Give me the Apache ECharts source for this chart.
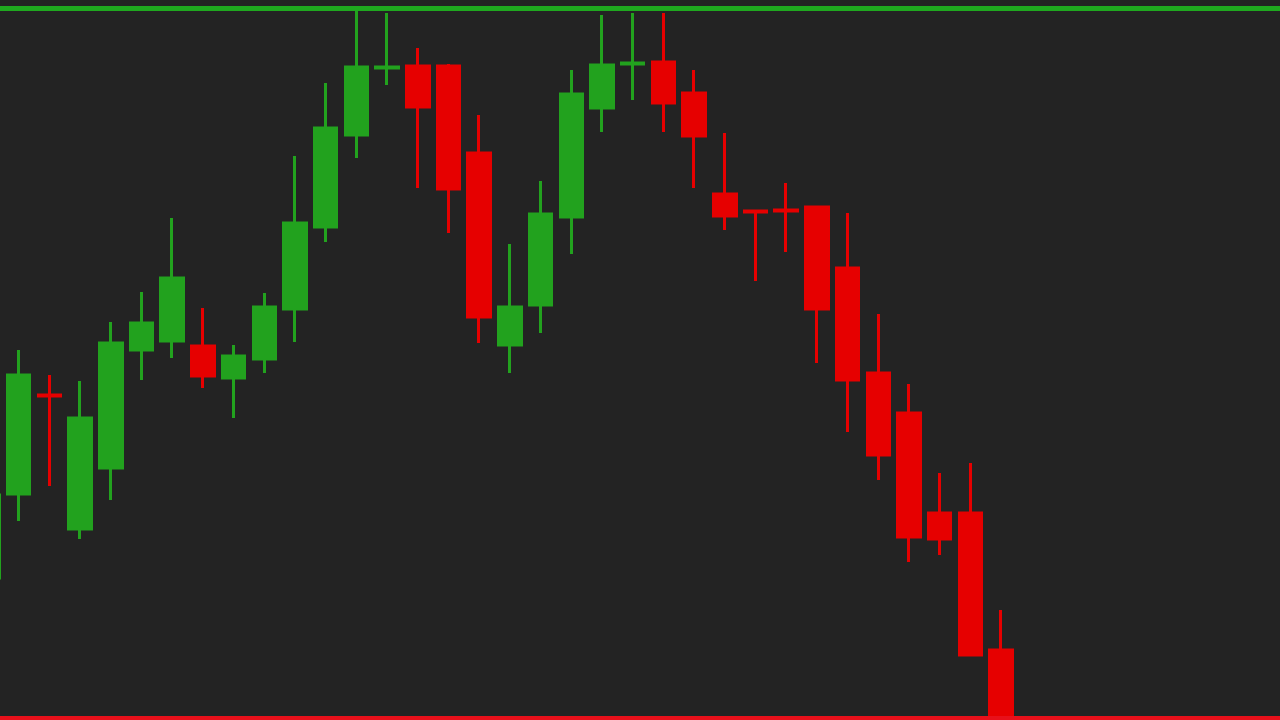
<!DOCTYPE html>
<html>
<head>
<meta charset="utf-8">
<script src="https://cdn.jsdelivr.net/npm/echarts@6/dist/echarts.min.js"></script>
<style>
html,body{margin:0;padding:0;background:#232323;}
#chart{width:1280px;height:720px;}
</style>
</head>
<body>
<div id="chart"></div>
<script>
// Candle values (chart units, 0 = bottom edge, 720 = top edge)
const opens  = [142,226,325,191,252,370,379,374,342,361,411,493,585,652,654,654,567,375,415,503,612,656,658,627,526,509,510,513,452,347,307,207,207,70];
const closes = [225,345,324,302,377,397,442,344,364,413,497,592,653,653,613,531,403,413,506,626,655,657,617,584,504,508,509,411,340,265,183,181,65,0];
const lows   = [140,199,234,181,220,340,362,332,302,347,378,478,562,635,532,487,377,347,387,466,588,620,588,532,490,439,468,357,288,240,158,165,65,0];
const highs  = [230,370,345,339,398,428,502,412,375,427,564,637,710,707,672,656,605,476,539,650,705,707,707,650,587,509,537,513,507,406,336,247,257,110];
const periodCount = 43;
const categories = [];
for (let i = 0; i < periodCount; i++) categories.push('P' + (i + 1));
const resistanceLevel = 712;
const supportLevel = 2;

const candleData = opens.map((o, i) => [o, closes[i], lows[i], highs[i]]);

const chart = echarts.init(document.getElementById('chart'));
chart.setOption({
  backgroundColor: '#232323',
  animation: false,
  grid: { left: -27.35, right: -12.75, top: 0, bottom: 0, containLabel: false, outerBoundsMode: 'none' },
  xAxis: {
    type: 'category',
    data: categories,
    boundaryGap: true,
    axisLine: { show: false }, axisTick: { show: false }, axisLabel: { show: false }, splitLine: { show: false }
  },
  yAxis: {
    type: 'value', min: 0, max: 720,
    axisLine: { show: false }, axisTick: { show: false }, axisLabel: { show: false }, splitLine: { show: false }
  },
  series: [{
    type: 'candlestick',
    data: candleData,
    barWidth: 23,
    itemStyle: {
      color: '#22a21e', color0: '#e60000',
      borderColor: '#22a21e', borderColor0: '#e60000',
      borderWidth: 3
    },
    markLine: {
      silent: true,
      symbol: ['none', 'none'],
      label: { show: false },
      data: [
        { yAxis: resistanceLevel, lineStyle: { color: '#1fa81f', width: 5, type: 'solid' } },
        { yAxis: supportLevel, lineStyle: { color: '#e8101a', width: 4, type: 'solid' } }
      ]
    }
  }]
});
</script>
</body>
</html>
